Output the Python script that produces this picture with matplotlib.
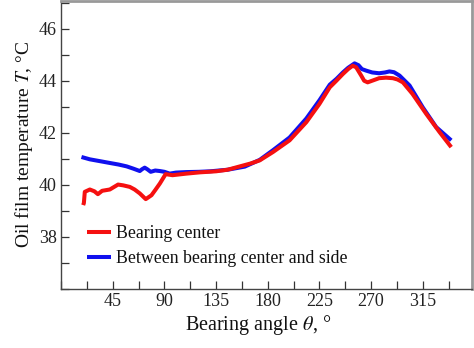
import matplotlib
matplotlib.use("Agg")
import matplotlib.pyplot as plt
from matplotlib.ticker import MultipleLocator, FixedLocator

theta_center = [19.2, 19.8, 20.6, 25, 29, 32, 35.7, 42.4, 49.6, 54, 59.8, 64, 68.5, 73.7, 78.7, 82, 86, 91, 97, 109, 121,
                135, 145, 155.8, 165, 173, 184.5, 199, 213.6, 225, 234, 239.7, 245.4, 250, 254, 257, 261.4, 264, 267,
                272, 277, 283, 289, 293, 297.7, 306, 318, 329.6, 339.8]
temp_center = [39.22, 39.3, 39.73, 39.82, 39.75, 39.64, 39.77, 39.82, 40.01, 39.98, 39.92, 39.82, 39.67, 39.45, 39.6, 39.8,
               40.05, 40.41, 40.37, 40.43, 40.48,
               40.52, 40.58, 40.71, 40.82, 40.94, 41.26, 41.71, 42.41, 43.11, 43.75, 44.0, 44.26, 44.45, 44.58, 44.52, 44.2, 44.0, 43.94,
               44.02, 44.1, 44.12, 44.1, 44.05, 43.94, 43.5, 42.73, 42.03, 41.45]

theta_side = [17.7, 25, 35, 42.4, 50, 57, 63, 68.5, 70.5, 72.8, 75, 78, 82, 86, 90, 94.6, 100, 109, 120, 130,
              145, 160, 173, 184.5, 199, 213.6, 225, 234, 240, 245.4, 250, 255.6, 259, 262, 265.8, 271, 277, 282, 286, 290,
              294.8, 303.5, 315, 326.7, 339.8]
temp_side = [41.07, 40.98, 40.9, 40.84, 40.78, 40.71, 40.62, 40.53, 40.6, 40.66, 40.6, 40.5, 40.55, 40.53, 40.5, 40.43, 40.47,
             40.49, 40.5, 40.52,
             40.58, 40.7, 40.96, 41.33, 41.82, 42.55, 43.25, 43.85, 44.08, 44.32, 44.5, 44.67, 44.6, 44.45, 44.39, 44.32, 44.29, 44.32,
             44.36, 44.33, 44.2, 43.82, 42.98, 42.22, 41.71]

labels = ["Bearing center", "Between bearing center and side"]
xticks = [45, 90, 135, 180, 225, 270, 315]
yticks = [38, 40, 42, 44, 46]

plt.rcParams['font.family'] = ['Liberation Serif', 'DejaVu Serif']
plt.rcParams['mathtext.fontset'] = 'stix'

fig = plt.figure(figsize=(4.74, 3.48), dpi=100)
ax = fig.add_axes([0.129, 0.170, 0.867, 0.828])

ax.plot(theta_center, temp_center, color='#f51010', lw=2.9, label=labels[0], solid_capstyle='butt')
ax.plot(theta_side, temp_side, color='#1010ee', lw=2.9, label=labels[1], solid_capstyle='butt', zorder=1.9)

ax.set_xlim(0, 358)
ax.set_ylim(36, 47.08)
ax.xaxis.set_major_locator(FixedLocator(xticks))
ax.xaxis.set_minor_locator(MultipleLocator(22.5))
ax.yaxis.set_major_locator(FixedLocator(yticks))
ax.yaxis.set_minor_locator(MultipleLocator(1))
ax.tick_params(which='both', direction='in', length=6, width=0.9, color='#333333', labelsize=13,
               labelcolor='#222222', pad=3)

for s in ['left', 'bottom']:
    ax.spines[s].set_color('#444444')
    ax.spines[s].set_linewidth(1.0)
for s in ['top', 'right']:
    ax.spines[s].set_color('#999999')
    ax.spines[s].set_linewidth(2.0)

ax.set_xlabel(r"Bearing angle $\theta$, °", fontsize=14.5, color='#111111', labelpad=0)
ax.xaxis.set_label_coords(0.48, -0.085)
ax.set_ylabel(r"Oil film temperature $T$, °C", fontsize=14, color='#111111', labelpad=3)

leg = ax.legend(loc='upper left', bbox_to_anchor=(0.062, 0.222), frameon=False, fontsize=12.8,
                handlelength=1.35, handletextpad=0.3, labelspacing=0.45, borderaxespad=0, borderpad=0)
for t in leg.get_texts():
    t.set_color('#111111')

fig.savefig("out.png", dpi=100)
